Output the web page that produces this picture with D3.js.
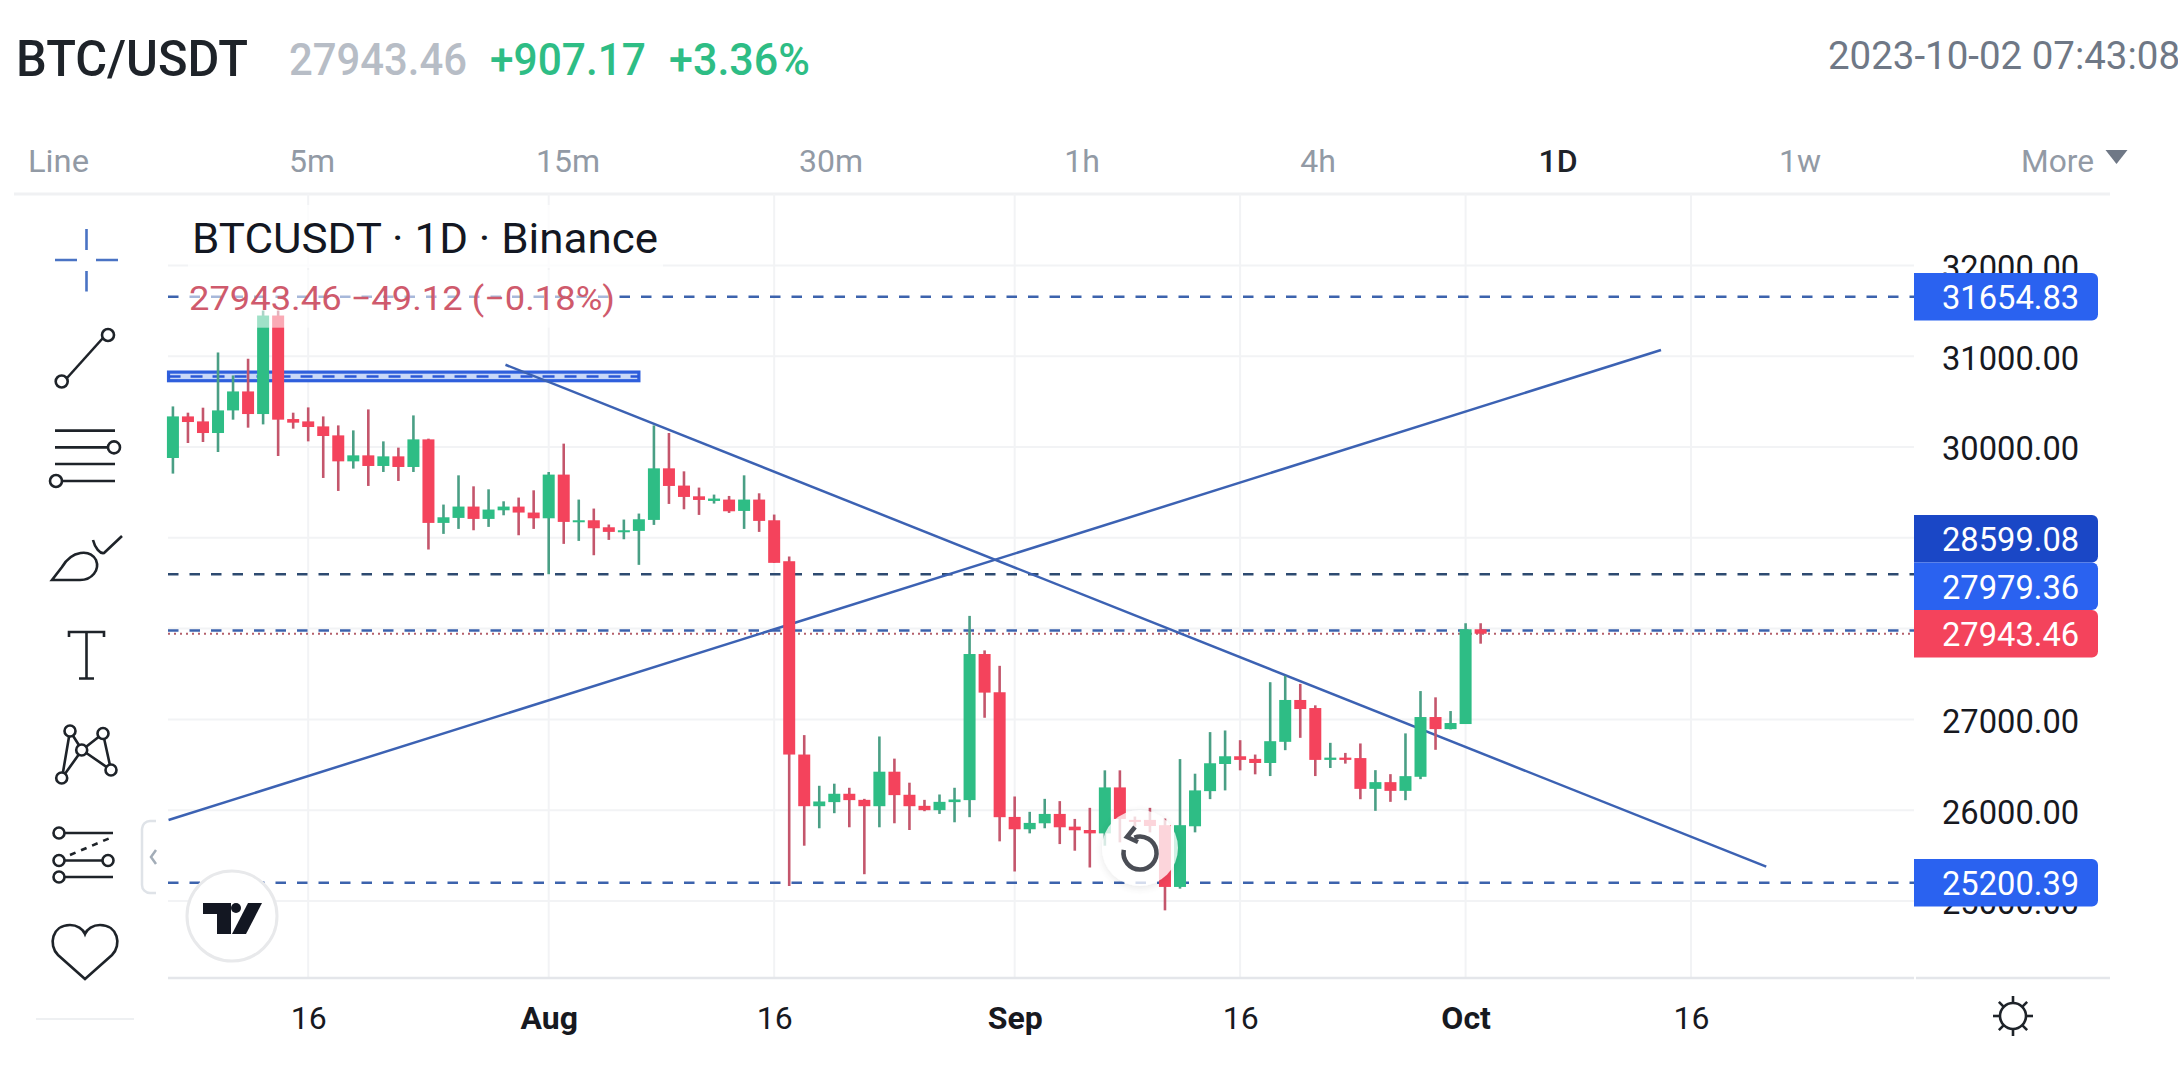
<!DOCTYPE html>
<html>
<head>
<meta charset="utf-8">
<script src="https://cdn.jsdelivr.net/npm/d3@7"></script>
<style>
  html, body { margin: 0; padding: 0; background: #fff; overflow: hidden; }
  svg { display: block; }
  text { font-family: Roboto, sans-serif; }
</style>
</head>
<body>
<svg id="chart" width="2178" height="1080"></svg>
<script>
const firstDay = '2023-07-07';

// one entry per day, Jul 7 .. Oct 2
const openPrices = [
  29879, 30337, 30282, 30154, 30403, 30612, 30363, 31448, 30308, 30282, 30227, 30128, 29842, 29908, 29791, 29897, 29780, 30084, 29164, 29219, 29344, 29208, 29303, 29344, 29278,
  29215, 29696, 29175, 29193, 29116, 29065, 29076, 29197, 29765, 29575, 29457, 29406, 29421, 29296, 29421, 29193, 28742, 26613, 26044, 26089, 26181, 26114, 26044, 26424, 26170, 26048, 26000, 26089, 26111, 27720, 27299,
  25926, 25790, 25856, 25959, 25819, 25782, 25745, 26251, 25893, 25893, 25835, 25155, 25823, 26210, 26509, 26594, 26565, 26520, 26753, 27214, 27125, 26554, 26579, 26574, 26235, 26309, 26213, 26368, 27026, 26893,
  26949, 27992.58
];
const highPrices = [
  30447, 30378, 30433, 31041, 30788, 30972, 31503, 31503, 30378, 30436, 30337, 30238, 30183, 30414, 30062, 29993, 30348, 30092, 29366, 29688, 29567, 29534, 29402, 29443, 29523,
  29725, 30037, 29421, 29322, 29146, 29201, 29267, 30238, 30154, 29732, 29553, 29476, 29461, 29688, 29490, 29256, 28793, 26827, 26269, 26292, 26247, 26125, 26812, 26568, 26303, 26114, 26173, 26247, 28140, 27760, 27590,
  26151, 25982, 26125, 26100, 25904, 26026, 26439, 26439, 25930, 26026, 25908, 26563, 26402, 26860, 26878, 26771, 26613, 27410, 27480, 27391, 27155, 26742, 26631, 26735, 26441, 26397, 26846, 27312, 27243, 27092,
  28059, 28059
];
const lowPrices = [
  29707, 30044, 30055, 29945, 30301, 30213, 30249, 29901, 30202, 30062, 29659, 29516, 29762, 29571, 29725, 29626, 29725, 28871, 29043, 29098, 29083, 29120, 29248, 29028, 29098,
  28599, 28933, 28966, 28808, 28977, 28984, 28702, 29142, 29373, 29314, 29252, 29377, 29274, 29098, 29065, 28724, 25166, 25609, 25801, 25967, 25812, 25295, 25812, 25856, 25782, 25989, 25959, 25867, 25923, 27018, 25657,
  25325, 25745, 25801, 25627, 25554, 25369, 25609, 25646, 25819, 25756, 24897, 25136, 25756, 26122, 26218, 26439, 26395, 26376, 26661, 26797, 26376, 26465, 26513, 26121, 25993, 26092, 26110, 26342, 26665, 26890,
  26949, 27834
];
const closePrices = [
  30337, 30275, 30154, 30403, 30612, 30363, 31448, 30301, 30268, 30220, 30121, 29842, 29908, 29791, 29897, 29780, 30084, 29164, 29226, 29344, 29208, 29311, 29344, 29278, 29215,
  29696, 29175, 29193, 29105, 29065, 29083, 29204, 29765, 29571, 29450, 29417, 29432, 29292, 29421, 29186, 28724, 26613, 26044, 26096, 26181, 26111, 26044, 26424, 26166, 26044, 26000, 26092, 26118, 27720, 27295, 25923,
  25790, 25860, 25959, 25812, 25779, 25745, 26251, 25904, 25878, 25826, 25155, 25835, 26218, 26517, 26594, 26554, 26520, 26760, 27214, 27114, 26554, 26579, 26554, 26235, 26309, 26213, 26375, 27026, 26893, 26960,
  27992.58, 27943.46
];

const priceTicks = [25000, 26000, 27000, 28000, 29000, 30000, 31000, 32000];
// 28000 and 29000 sit under the price tags, so they get a grid line but no text
const priceTickLabels = [25000, 26000, 27000, 30000, 31000, 32000];
const dateTicks = ['2023-07-16', '2023-08-01', '2023-08-16', '2023-09-01', '2023-09-16', '2023-10-01', '2023-10-16'];
const priceLevels = [31654.83, 28599.08, 27979.36, 25200.39];
const lastPrice = 27943.46;

// drawings: [date, price] anchors
const risingLine = [['2023-07-06T17:00Z', 25892], ['2023-10-14', 31068]];
const fallingLine = [['2023-07-29T03:00Z', 30906], ['2023-10-21', 25378]];
const bandDates = ['2023-07-06T17:00Z', '2023-08-07'];
const bandPrices = [30825, 30776, 30730];

const tabs = ['Line', '5m', '15m', '30m', '1h', '4h', '1D', '1w'];
const tabX = [58, 312, 568, 831, 1082, 1318, 1558, 1800];

const GREEN = '#2ebd85', RED = '#f4435c';

const svg = d3.select('#chart');
const x = d3.scaleUtc().domain([new Date('2023-08-01'), new Date('2023-10-01')]).range([548.7, 1465.6]);
const y = d3.scaleLinear().domain([25000, 32000]).range([901, 265.4]);
const days = closePrices.map((_, i) => d3.utcDay.offset(new Date(firstDay), i));
const plotLeft = 168, plotRight = 1914, plotTop = 194, plotBottom = 978;

function label(t, px, py, size, fill, opts) {
  opts = opts || {};
  const el = svg.append('text').attr('x', px).attr('y', py).attr('font-size', size).attr('fill', fill).text(t);
  if (opts.weight) el.attr('font-weight', opts.weight);
  if (opts.anchor) el.attr('text-anchor', opts.anchor);
  if (opts.len) el.attr('textLength', opts.len).attr('lengthAdjust', 'spacingAndGlyphs');
  return el;
}

// header
label('BTC/USDT', 16, 76, 50, '#1e2329', { weight: 500, len: 232 });
label('27943.46', 289, 75, 45, '#b7bdc6', { weight: 500, len: 178 });
label('+907.17', 490, 75, 45, GREEN, { weight: 500, len: 156 });
label('+3.36%', 669, 75, 45, GREEN, { weight: 500, len: 141 });
label('2023-10-02 07:43:08', 1828, 69, 38, '#6f7886', { len: 352 });

tabs.forEach((t, i) => {
  label(t, tabX[i] + (t === 'Line' ? -30 : 0), 172, 32, t === '1D' ? '#1e2329' : '#929aa5', {
    anchor: t === 'Line' ? 'start' : 'middle', weight: t === '1D' ? 500 : null, len: t === 'Line' ? 61 : null
  });
});
label('More', 2021, 172, 32, '#929aa5', { len: 73 });
svg.append('path').attr('d', 'M2105.5 150H2127.5L2116.5 164Z').attr('fill', '#6f7886');

// grid
svg.append('line').attr('x1', 14).attr('x2', 2110).attr('y1', plotTop).attr('y2', plotTop).attr('stroke', '#f0f1f3').attr('stroke-width', 3);
svg.append('g').selectAll('line').data(priceTicks).join('line')
  .attr('x1', plotLeft).attr('x2', plotRight).attr('y1', d => y(d)).attr('y2', d => y(d))
  .attr('stroke', '#f2f3f5').attr('stroke-width', 2);
svg.append('g').selectAll('line').data(dateTicks).join('line')
  .attr('x1', d => x(new Date(d))).attr('x2', d => x(new Date(d))).attr('y1', plotTop).attr('y2', plotBottom)
  .attr('stroke', '#f2f3f5').attr('stroke-width', 2);
svg.append('line').attr('x1', plotLeft).attr('x2', 1914).attr('y1', plotBottom).attr('y2', plotBottom).attr('stroke', '#e4e6ea').attr('stroke-width', 2.5);
svg.append('line').attr('x1', 1916).attr('x2', 2110).attr('y1', plotBottom).attr('y2', plotBottom).attr('stroke', '#e4e6ea').attr('stroke-width', 2.5);

// price axis
const priceAxis = svg.append('g').attr('transform', 'translate(1942,2.5)')
  .call(d3.axisRight(y).tickValues(priceTickLabels).tickSize(0).tickPadding(0).tickFormat(d3.format('.2f')));
priceAxis.select('.domain').remove();
priceAxis.selectAll('text').attr('font-size', 32.7).attr('font-family', 'Roboto, sans-serif').attr('fill', '#17191f');

// date axis
const monthFmt = d3.utcFormat('%b');
const dateAxis = svg.append('g').attr('transform', 'translate(0,1006.5)')
  .call(d3.axisBottom(x).tickValues(dateTicks.map(d => new Date(d))).tickSize(0).tickPadding(0)
    .tickFormat(d => d.getUTCDate() === 1 ? monthFmt(d) : d3.utcFormat('%-d')(d)));
dateAxis.select('.domain').remove();
dateAxis.selectAll('text').attr('font-size', 32).attr('font-family', 'Roboto, sans-serif').attr('fill', '#17191f')
  .attr('font-weight', d => d.getUTCDate() === 1 ? 700 : 400);

// drawing band
const bandX0 = x(new Date(bandDates[0])), bandX1 = x(new Date(bandDates[1]));
svg.append('rect').attr('x', bandX0).attr('width', bandX1 - bandX0)
  .attr('y', y(bandPrices[0])).attr('height', y(bandPrices[2]) - y(bandPrices[0]))
  .attr('fill', '#c9d8f8').attr('stroke', '#2f5fdc').attr('stroke-width', 3.2);
svg.append('line').attr('x1', bandX0).attr('x2', bandX1).attr('y1', y(bandPrices[1])).attr('y2', y(bandPrices[1]))
  .attr('stroke', '#2a57d6').attr('stroke-width', 2.5).attr('stroke-dasharray', '12 10');

// horizontal levels
svg.append('g').selectAll('line').data(priceLevels).join('line')
  .attr('x1', plotLeft).attr('x2', plotRight).attr('y1', d => y(d)).attr('y2', d => y(d))
  .attr('stroke', d => d === 28599.08 ? '#2d4a70' : '#3c63ad').attr('stroke-width', 2.5)
  .attr('stroke-dasharray', '10.5 11');
svg.append('line').attr('x1', plotLeft).attr('x2', plotRight).attr('y1', y(lastPrice)).attr('y2', y(lastPrice))
  .attr('stroke', '#b4606c').attr('stroke-width', 2).attr('stroke-dasharray', '2 4');

// trend lines
const anchorLine = d3.line().x(d => x(new Date(d[0]))).y(d => y(d[1]));
[risingLine, fallingLine].forEach(pts => {
  svg.append('path').attr('d', anchorLine(pts)).attr('fill', 'none').attr('stroke', '#3c62b3').attr('stroke-width', 2.5);
});

// candles
const candles = svg.append('g').selectAll('g').data(days).join('g');
candles.append('line')
  .attr('x1', d => x(d)).attr('x2', d => x(d))
  .attr('y1', (d, i) => y(highPrices[i])).attr('y2', (d, i) => y(lowPrices[i]))
  .attr('stroke', (d, i) => closePrices[i] >= openPrices[i] ? '#4a9f85' : '#c4566c')
  .attr('stroke-width', 2.6);
candles.append('rect')
  .attr('x', d => x(d) - 6).attr('width', 12)
  .attr('y', (d, i) => y(Math.max(openPrices[i], closePrices[i])))
  .attr('height', (d, i) => Math.max(2, Math.abs(y(openPrices[i]) - y(closePrices[i]))))
  .attr('fill', (d, i) => closePrices[i] >= openPrices[i] ? GREEN : RED);

// legend over the candles
svg.append('rect').attr('x', 188).attr('y', 205).attr('width', 475).attr('height', 63).attr('fill', '#fff').attr('opacity', 0.75);
svg.append('rect').attr('x', 188).attr('y', 270).attr('width', 428).attr('height', 57.7).attr('fill', '#fff').attr('opacity', 0.55);
label('BTCUSDT · 1D · Binance', 192, 253, 42, '#131722', { len: 466 });
label('27943.46  −49.12 (−0.18%)', 189, 310, 33.5, '#cf5a6c', { len: 426 });

// price tags, pushed upwards from the last price when they would overlap
const TAG_H = 47.5;
const tagRows = [
  { v: lastPrice, fill: '#f4435c', cy: y(lastPrice) },
  { v: 27979.36, fill: '#2a62f0', cy: y(27979.36) },
  { v: 28599.08, fill: '#1a47c6', cy: y(28599.08) },
  { v: 25200.39, fill: '#2a62f0', cy: y(25200.39) },
  { v: 31654.83, fill: '#2a62f0', cy: y(31654.83) }
];
tagRows.slice(1, 3).forEach((t, i) => { t.cy = Math.min(t.cy, tagRows[i].cy - TAG_H); });
tagRows.slice().reverse().forEach(t => {
  const yTop = t.cy - TAG_H / 2, yBot = t.cy + TAG_H / 2;
  svg.append('path').attr('fill', t.fill)
    .attr('d', `M1914 ${yTop}H2092a6 6 0 0 1 6 6V${yBot - 6}a6 6 0 0 1 -6 6H1914Z`);
  label(d3.format('.2f')(t.v), 1942, t.cy, 32.7, '#fff').attr('dy', '.38em');
});

// scroll-back button
const defs = svg.append('defs');
const blur = defs.append('filter').attr('id', 'soft').attr('x', '-30%').attr('y', '-30%').attr('width', '160%').attr('height', '160%');
blur.append('feDropShadow').attr('dx', 0).attr('dy', 2).attr('stdDeviation', 4).attr('flood-color', '#000').attr('flood-opacity', 0.12);
svg.append('circle').attr('cx', 1140).attr('cy', 848).attr('r', 38).attr('fill', '#fff').attr('opacity', 0.78).attr('filter', 'url(#soft)');
svg.append('path').attr('d', d3.arc()({ innerRadius: 16.5, outerRadius: 16.5, startAngle: -0.35, endAngle: 4.9 }))
  .attr('transform', 'translate(1140,853)').attr('fill', 'none').attr('stroke', '#4a4d55').attr('stroke-width', 4.5);
svg.append('path').attr('d', 'M1135 827L1127 837L1138 842').attr('fill', 'none').attr('stroke', '#4a4d55').attr('stroke-width', 4.5);

// tradingview badge
svg.append('circle').attr('cx', 232).attr('cy', 916).attr('r', 45).attr('fill', '#fff').attr('stroke', '#e8e9eb').attr('stroke-width', 3);
svg.append('path').attr('fill', '#131722').attr('d', 'M203 903H231V934H217V914H203Z');
svg.append('circle').attr('cx', 236).attr('cy', 908).attr('r', 5).attr('fill', '#131722');
svg.append('path').attr('fill', '#131722').attr('d', 'M248 903H262L246 934H232Z');

// collapse tab
svg.append('path').attr('d', 'M156 821H150a8 8 0 0 0 -8 8V885a8 8 0 0 0 8 8H156').attr('fill', 'none').attr('stroke', '#dfe3e8').attr('stroke-width', 2.5);
svg.append('path').attr('d', 'M156 850L151 857L156 864').attr('fill', 'none').attr('stroke', '#a3adb8').attr('stroke-width', 2.5);

// toolbar icons
const tool = svg.append('g').attr('fill', 'none').attr('stroke', '#1e2329').attr('stroke-width', 2.6);
const ring = (cx, cy, r) => tool.append('circle').attr('cx', cx).attr('cy', cy).attr('r', r || 5.5).attr('fill', '#fff');
const seg = d => tool.append('path').attr('d', d);

tool.append('path').attr('d', 'M55 260H77M96 260H118M86.5 229V250M86.5 271V291.5').attr('stroke', '#4a73c4');

seg('M67 378L102.5 338.5'); ring(61.7, 381.5, 6); ring(108, 335, 6);

seg('M55 430.6H115M55 447.4H108M55 464H115M62 481H115'); ring(114, 447.4, 6); ring(56, 481, 6);

seg('M52 580H80C92 580 100 570 96 560C90 549 72 550 62 567Z');
seg('M93 540C95 548 100 554 104 553L122 536');

seg('M69 637V632H104V637M86.5 632V678.5M79 678.5H94');

seg('M70 731L62 778L82 750L70 731M82 750L103 733.5L111 770L82 750');
ring(70, 731); ring(103, 733.5); ring(81.7, 750); ring(61.7, 778); ring(111, 770);

seg('M64 833H113M64 860.5H103M64 877H113');
seg('M70 855L110 838').attr('stroke-dasharray', '6 6');
ring(59, 833); ring(59, 860.5); ring(108, 860.5); ring(59, 877);

seg('M85 979L58 955C48 945 52 925 70 925C77 925 83 929 85 934C87 929 93 925 100 925C118 925 122 945 112 955Z');

svg.append('line').attr('x1', 36).attr('x2', 134).attr('y1', 1019).attr('y2', 1019).attr('stroke', '#eef0f2').attr('stroke-width', 2);

// theme toggle
tool.append('circle').attr('cx', 2013).attr('cy', 1016).attr('r', 13);
d3.range(8).forEach(i => {
  const a = i * Math.PI / 4;
  seg(`M${2013 + 13 * Math.cos(a)} ${1016 + 13 * Math.sin(a)}L${2013 + 20 * Math.cos(a)} ${1016 + 20 * Math.sin(a)}`);
});
</script>
</body>
</html>
